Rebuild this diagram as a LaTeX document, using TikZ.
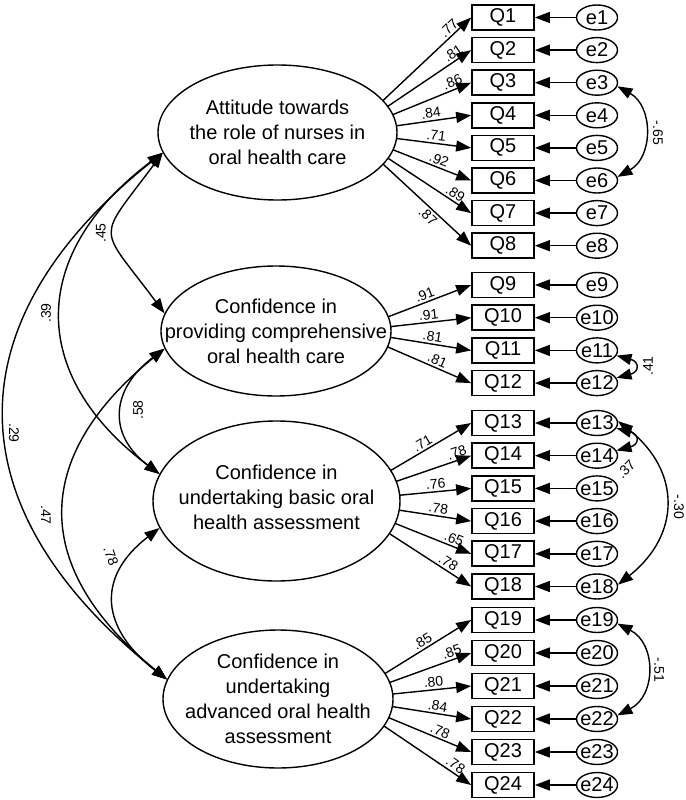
\documentclass[tikz,border=0pt]{standalone}
\usepackage{fontspec}
\setmainfont{Liberation Sans}
\usetikzlibrary{arrows.meta,backgrounds,calc,shapes.geometric}
\begin{document}
\begin{tikzpicture}[x=1pt,y=1pt,
  txt/.style={font=\fontsize{20}{25}\selectfont},
  latent/.style={draw,ellipse,line width=1.4pt,fill=white,inner sep=0pt},
  obs/.style={txt,draw,rectangle,line width=1.7pt,minimum width=62pt,minimum height=25pt,inner sep=0pt},
  err/.style={txt,draw,ellipse,line width=1.4pt,minimum width=41pt,minimum height=25pt,inner sep=-4pt},
  bigtri/.tip={Triangle[length=15pt,width=11pt]},
  load/.style={line width=1.4pt,-{bigtri}},
  cov/.style={line width=1.4pt,{bigtri}-{bigtri}},
  lab/.style={font=\fontsize{14}{14}\selectfont,inner sep=2pt}]
\useasboundingbox (0,0) rectangle (685,-800);

% latent variables
\node[latent,minimum width=239pt,minimum height=135pt] (L1) at (277.5,-132.5) {};
\node[txt,align=center] (T1) at (L1.center) {Attitude towards\\the role of nurses in\\oral health care};
\node[latent,minimum width=230pt,minimum height=130pt] (L2) at (276,-331) {};
\node[txt,align=center] (T2) at (L2.center) {Confidence in\\providing comprehensive\\oral health care};
\node[latent,minimum width=247pt,minimum height=160pt] (L3) at (276.5,-501) {};
\node[txt,align=center] (T3) at ($(L3.center)+(0,4)$) {Confidence in\\undertaking basic oral\\health assessment};
\node[latent,minimum width=230pt,minimum height=138pt] (L4) at (278,-699) {};
\node[txt,align=center] (T4) at (L4.center) {Confidence in\\undertaking\\advanced oral health\\assessment};

% observed items and errors
\foreach \i/\yy in {1/17.5,2/50.1,3/82.7,4/115.3,5/147.9,6/180.5,7/213.1,8/245.7,
  9/285,10/317.7,11/350.4,12/383.1,13/423,14/455.7,15/488.4,16/521.1,17/553.8,18/586.5,
  19/620,20/653,21/686,22/719,23/752,24/785}{
  \node[obs] (Q\i) at (503,-\yy) {Q\i};
  \node[err] (e\i) at (597,-\yy) {e\i};
  \draw[load] (e\i) -- (Q\i);
}

% loadings (drawn behind the latent ellipses)
\begin{scope}[on background layer]
\coordinate (O1) at ($(L1.center)+(71.5,0)$);
\coordinate (O2) at ($(L2.center)+(75,0)$);
\coordinate (O3) at ($(L3.center)+(62.5,0)$);
\coordinate (O4) at ($(L4.center)+(66,0)$);
\foreach \i/\pp/\lv in {1/.86/.77,2/.886/.81,3/.87/.86,4/.68/.84,5/.707/.71,6/.715/.92,7/.837/.89}
  \draw[load] (O1) -- node[lab,pos=\pp,sloped,above] (w\i) {\lv} (Q\i.west);
\draw[load] (O1) -- node[lab,pos=.69,sloped,below] (w8) {.87} (Q8.west);
\foreach \i/\pp/\lv in {9/.636/.91,10/.653/.91,11/.669/.81,12/.694/.81}
  \draw[load] (O2) -- node[lab,pos=\pp,sloped,above] (w\i) {\lv} (Q\i.west);
\foreach \i/\pp/\lv in {13/.66/.71,14/.91/.78,15/.737/.76,16/.744/.78,17/.85/.65,18/.797/.78}
  \draw[load] (O3) -- node[lab,pos=\pp,sloped,above] (w\i) {\lv} (Q\i.west);
\foreach \i/\pp/\lv in {19/.648/.85,20/.867/.85,21/.71/.80,22/.727/.84,23/.734/.78,24/.844/.78}
  \draw[load] (O4) -- node[lab,pos=\pp,sloped,above] (w\i) {\lv} (Q\i.west);
\end{scope}

% latent covariances
\draw[cov] (L1.190) .. controls +(-67,-90) and +(-67,90) .. (L2.171);
\draw[cov] (L1.190) .. controls +(-133,-100) and +(-133,100) .. (L3.167);
\draw[cov] (L1.190) .. controls +(-213,-170) and +(-213,170) .. (L4.170);
\draw[cov] (L2.189) .. controls +(-53,-40) and +(-53,40) .. (L3.167);
\draw[cov] (L2.189) .. controls +(-135,-110) and +(-135,110) .. (L4.170);
\draw[cov] (L3.193) .. controls +(-65,-50) and +(-65,50) .. (L4.170);
\node[lab,rotate=90] (c45) at (101,-233) {.45};
\node[lab,rotate=90] (c39) at (46,-313) {.39};
\node[lab,rotate=-90] (c29) at (14,-433) {.29};
\node[lab,rotate=90] (c58) at (138,-410) {.58};
\node[lab,rotate=-90] (c47) at (46,-515) {.47};
\node[lab,rotate=-70] (c78) at (111,-556) {.78};

% error covariances
\draw[cov] (e3.-10) .. controls +(36,-20) and +(36,20) .. (e6.10);
\draw[cov] (e11.-15) .. controls +(23,-6) and +(23,6) .. (e12.15);
\draw[cov] (e13.-15) .. controls +(23,-6) and +(23,6) .. (e14.15);
\draw[cov] (e13.5) .. controls +(63,-50) and +(63,50) .. (e18.5);
\draw[cov] (e19.-10) .. controls +(39,-20) and +(39,20) .. (e22.10);
\node[lab,rotate=-90] (c65) at (658,-133) {-.65};
\node[lab,rotate=90] (c41) at (648,-366) {.41};
\node[lab,rotate=45] (c37) at (626,-469) {.37};
\node[lab,rotate=-90] (c30) at (679,-507) {-.30};
\node[lab,rotate=-90] (c51) at (659,-670) {-.51};
\end{tikzpicture}
\end{document}
